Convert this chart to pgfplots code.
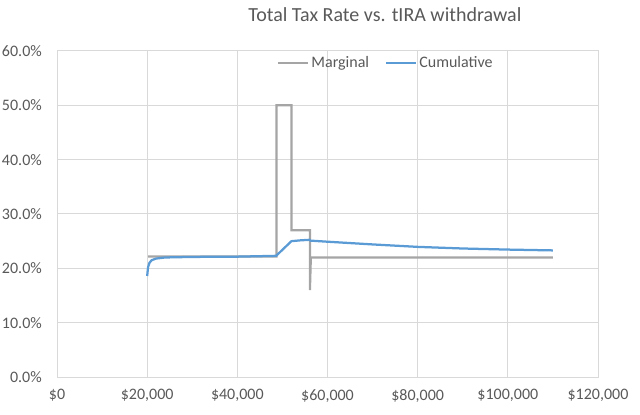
\documentclass[border=0pt]{standalone}
\usepackage{pgfplots}
\pgfplotsset{compat=1.18}
\usepackage{fontspec}
\setmainfont{Carlito}

\definecolor{margcol}{HTML}{A5A5A5}
\definecolor{cumcol}{HTML}{5B9BD5}
\definecolor{gridcol}{HTML}{D9D9D9}
\definecolor{textcol}{HTML}{595959}

\begin{document}
\begin{tikzpicture}
\useasboundingbox (0,0) rectangle (640bp,415bp);
\begin{axis}[
  at={(57bp,38bp)}, anchor=south west,
  scale only axis, width=541bp, height=326bp,
  xmin=0, xmax=120000, ymin=0, ymax=60,
  xtick={0,20000,...,120000}, ytick={0,10,...,60},
  scaled x ticks=false,
  grid=major,
  major grid style={gridcol, line width=1bp},
  axis line style={gridcol, line width=1bp},
  major tick length=0pt,
  /pgf/number format/assume math mode=true,
  ticklabel style={font=\fontsize{16bp}{19bp}\selectfont, text=textcol},
  xticklabel={\$\pgfmathprintnumber[fixed,precision=0,1000 sep={,}]{\tick}},
  yticklabel={\pgfmathprintnumber[fixed,fixed zerofill,precision=1]{\tick}\%},
  xticklabel style={inner sep=0pt, anchor=north, yshift=-12bp},
  yticklabel style={inner sep=0pt, anchor=east, xshift=-15bp},
  title={Total Tax Rate vs. tIRA withdrawal},
  title style={at={(0.606,1)}, anchor=base, yshift=24bp,
    font=\fontsize{20bp}{24bp}\selectfont, text=textcol},
  legend columns=2,
  legend style={at={(0.608,0.964)}, anchor=center, draw=none, fill=none,
    font=\fontsize{16bp}{19bp}\selectfont, text=textcol,
    /tikz/every even column/.append style={column sep=14bp}},
  legend image code/.code={\draw[#1] (0bp,0bp) -- (30bp,0bp);},
]
\addplot[margcol, line width=2.25bp, line join=miter] coordinates {
  (20200,22.2) (48700,22.2) (48700,50) (52000,50) (52000,27)
  (56100,27) (56100,16) (56300,22) (110000,22)
};
\addlegendentry{Marginal}
\addplot[cumcol, line width=2.25bp] coordinates {
  (20000,18.6) (20200,20.2) (20500,21.0) (21000,21.5) (22000,21.8)
  (24000,22.0) (30000,22.1) (40000,22.15) (48600,22.3) (52000,25.0)
  (54000,25.15) (56000,25.25) (56200,25.1) (60000,24.9) (70000,24.4)
  (80000,23.95) (90000,23.65) (100000,23.45) (110000,23.3)
};
\addlegendentry{Cumulative}
\end{axis}
\end{tikzpicture}
\end{document}
